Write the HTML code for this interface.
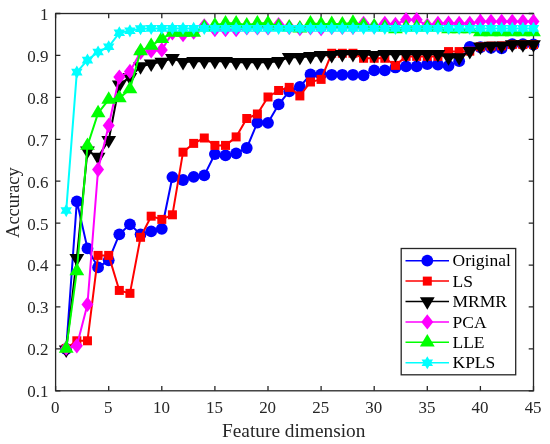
<!DOCTYPE html>
<html><head><meta charset="utf-8"><title>Accuracy vs feature dimension</title>
<style>html,body{margin:0;padding:0;background:#fff}body{width:550px;height:444px;overflow:hidden;position:relative}</style></head>
<body>
<svg width="550" height="444" viewBox="0 0 550 444" style="position:absolute;left:0;top:0">
<rect width="550" height="444" fill="#fff"/>
<path d="M55.60 390.8 v-4.8 M55.60 13.52 v4.8 M108.70 390.8 v-4.8 M108.70 13.52 v4.8 M161.80 390.8 v-4.8 M161.80 13.52 v4.8 M214.90 390.8 v-4.8 M214.90 13.52 v4.8 M268.00 390.8 v-4.8 M268.00 13.52 v4.8 M321.10 390.8 v-4.8 M321.10 13.52 v4.8 M374.20 390.8 v-4.8 M374.20 13.52 v4.8 M427.30 390.8 v-4.8 M427.30 13.52 v4.8 M480.40 390.8 v-4.8 M480.40 13.52 v4.8 M533.50 390.8 v-4.8 M533.50 13.52 v4.8 M55.6 390.80 h4.8 M533.50 390.80 h-4.8 M55.6 348.88 h4.8 M533.50 348.88 h-4.8 M55.6 306.96 h4.8 M533.50 306.96 h-4.8 M55.6 265.04 h4.8 M533.50 265.04 h-4.8 M55.6 223.12 h4.8 M533.50 223.12 h-4.8 M55.6 181.20 h4.8 M533.50 181.20 h-4.8 M55.6 139.28 h4.8 M533.50 139.28 h-4.8 M55.6 97.36 h4.8 M533.50 97.36 h-4.8 M55.6 55.44 h4.8 M533.50 55.44 h-4.8 M55.6 13.52 h4.8 M533.50 13.52 h-4.8" stroke="#262626" stroke-width="1.3" fill="none"/>
<rect x="55.6" y="13.52" width="477.90" height="377.28" fill="none" stroke="#262626" stroke-width="1.3"/>
<g><polyline points="66.22,348.99 76.84,201.33 87.46,248.39 98.08,267.42 108.70,260.31 119.32,234.37 129.94,224.33 140.56,234.37 151.18,231.45 161.80,228.81 172.42,177.07 183.04,180.00 193.66,176.82 204.28,175.39 214.90,154.06 225.52,155.40 236.14,153.39 246.76,148.00 257.38,122.69 268.00,122.81 278.62,104.41 289.24,91.40 299.86,86.80 310.48,74.42 321.10,74.42 331.72,74.79 342.34,74.79 352.96,74.79 363.58,75.42 374.20,70.40 384.82,70.40 395.44,67.47 406.06,66.38 416.68,66.38 427.30,64.13 437.92,64.54 448.54,65.80 459.16,61.20 469.78,46.98 480.40,47.23 491.02,47.90 501.64,48.31 512.26,44.13 522.88,44.13 533.50,44.47" fill="none" stroke="#0000ff" stroke-width="2.0" stroke-linejoin="round"/>
<circle cx="66.22" cy="348.99" r="5.9" fill="#0000ff"/>
<circle cx="76.84" cy="201.33" r="5.9" fill="#0000ff"/>
<circle cx="87.46" cy="248.39" r="5.9" fill="#0000ff"/>
<circle cx="98.08" cy="267.42" r="5.9" fill="#0000ff"/>
<circle cx="108.70" cy="260.31" r="5.9" fill="#0000ff"/>
<circle cx="119.32" cy="234.37" r="5.9" fill="#0000ff"/>
<circle cx="129.94" cy="224.33" r="5.9" fill="#0000ff"/>
<circle cx="140.56" cy="234.37" r="5.9" fill="#0000ff"/>
<circle cx="151.18" cy="231.45" r="5.9" fill="#0000ff"/>
<circle cx="161.80" cy="228.81" r="5.9" fill="#0000ff"/>
<circle cx="172.42" cy="177.07" r="5.9" fill="#0000ff"/>
<circle cx="183.04" cy="180.00" r="5.9" fill="#0000ff"/>
<circle cx="193.66" cy="176.82" r="5.9" fill="#0000ff"/>
<circle cx="204.28" cy="175.39" r="5.9" fill="#0000ff"/>
<circle cx="214.90" cy="154.06" r="5.9" fill="#0000ff"/>
<circle cx="225.52" cy="155.40" r="5.9" fill="#0000ff"/>
<circle cx="236.14" cy="153.39" r="5.9" fill="#0000ff"/>
<circle cx="246.76" cy="148.00" r="5.9" fill="#0000ff"/>
<circle cx="257.38" cy="122.69" r="5.9" fill="#0000ff"/>
<circle cx="268.00" cy="122.81" r="5.9" fill="#0000ff"/>
<circle cx="278.62" cy="104.41" r="5.9" fill="#0000ff"/>
<circle cx="289.24" cy="91.40" r="5.9" fill="#0000ff"/>
<circle cx="299.86" cy="86.80" r="5.9" fill="#0000ff"/>
<circle cx="310.48" cy="74.42" r="5.9" fill="#0000ff"/>
<circle cx="321.10" cy="74.42" r="5.9" fill="#0000ff"/>
<circle cx="331.72" cy="74.79" r="5.9" fill="#0000ff"/>
<circle cx="342.34" cy="74.79" r="5.9" fill="#0000ff"/>
<circle cx="352.96" cy="74.79" r="5.9" fill="#0000ff"/>
<circle cx="363.58" cy="75.42" r="5.9" fill="#0000ff"/>
<circle cx="374.20" cy="70.40" r="5.9" fill="#0000ff"/>
<circle cx="384.82" cy="70.40" r="5.9" fill="#0000ff"/>
<circle cx="395.44" cy="67.47" r="5.9" fill="#0000ff"/>
<circle cx="406.06" cy="66.38" r="5.9" fill="#0000ff"/>
<circle cx="416.68" cy="66.38" r="5.9" fill="#0000ff"/>
<circle cx="427.30" cy="64.13" r="5.9" fill="#0000ff"/>
<circle cx="437.92" cy="64.54" r="5.9" fill="#0000ff"/>
<circle cx="448.54" cy="65.80" r="5.9" fill="#0000ff"/>
<circle cx="459.16" cy="61.20" r="5.9" fill="#0000ff"/>
<circle cx="469.78" cy="46.98" r="5.9" fill="#0000ff"/>
<circle cx="480.40" cy="47.23" r="5.9" fill="#0000ff"/>
<circle cx="491.02" cy="47.90" r="5.9" fill="#0000ff"/>
<circle cx="501.64" cy="48.31" r="5.9" fill="#0000ff"/>
<circle cx="512.26" cy="44.13" r="5.9" fill="#0000ff"/>
<circle cx="522.88" cy="44.13" r="5.9" fill="#0000ff"/>
<circle cx="533.50" cy="44.47" r="5.9" fill="#0000ff"/>
</g>
<g><polyline points="66.22,348.57 76.84,340.79 87.46,340.79 98.08,255.41 108.70,255.41 119.32,290.43 129.94,293.35 140.56,237.30 151.18,216.18 161.80,219.40 172.42,214.80 183.04,152.18 193.66,143.39 204.28,138.00 214.90,145.40 225.52,145.40 236.14,136.91 246.76,118.50 257.38,113.99 268.00,97.00 278.62,90.48 289.24,87.38 299.86,95.92 310.48,81.99 321.10,79.39 331.72,53.25 342.34,53.25 352.96,53.25 363.58,58.27 374.20,58.27 384.82,58.27 395.44,65.38 406.06,56.39 416.68,56.39 427.30,56.39 437.92,56.39 448.54,51.58 459.16,51.58 469.78,51.16 480.40,46.77 491.02,46.01 501.64,45.80 512.26,44.47 522.88,44.47 533.50,44.47" fill="none" stroke="#ff0000" stroke-width="2.0" stroke-linejoin="round"/>
<rect x="61.72" y="344.07" width="9" height="9" fill="#ff0000"/>
<rect x="72.34" y="336.29" width="9" height="9" fill="#ff0000"/>
<rect x="82.96" y="336.29" width="9" height="9" fill="#ff0000"/>
<rect x="93.58" y="250.91" width="9" height="9" fill="#ff0000"/>
<rect x="104.20" y="250.91" width="9" height="9" fill="#ff0000"/>
<rect x="114.82" y="285.93" width="9" height="9" fill="#ff0000"/>
<rect x="125.44" y="288.85" width="9" height="9" fill="#ff0000"/>
<rect x="136.06" y="232.80" width="9" height="9" fill="#ff0000"/>
<rect x="146.68" y="211.68" width="9" height="9" fill="#ff0000"/>
<rect x="157.30" y="214.90" width="9" height="9" fill="#ff0000"/>
<rect x="167.92" y="210.30" width="9" height="9" fill="#ff0000"/>
<rect x="178.54" y="147.68" width="9" height="9" fill="#ff0000"/>
<rect x="189.16" y="138.89" width="9" height="9" fill="#ff0000"/>
<rect x="199.78" y="133.50" width="9" height="9" fill="#ff0000"/>
<rect x="210.40" y="140.90" width="9" height="9" fill="#ff0000"/>
<rect x="221.02" y="140.90" width="9" height="9" fill="#ff0000"/>
<rect x="231.64" y="132.41" width="9" height="9" fill="#ff0000"/>
<rect x="242.26" y="114.00" width="9" height="9" fill="#ff0000"/>
<rect x="252.88" y="109.49" width="9" height="9" fill="#ff0000"/>
<rect x="263.50" y="92.50" width="9" height="9" fill="#ff0000"/>
<rect x="274.12" y="85.98" width="9" height="9" fill="#ff0000"/>
<rect x="284.74" y="82.88" width="9" height="9" fill="#ff0000"/>
<rect x="295.36" y="91.42" width="9" height="9" fill="#ff0000"/>
<rect x="305.98" y="77.49" width="9" height="9" fill="#ff0000"/>
<rect x="316.60" y="74.89" width="9" height="9" fill="#ff0000"/>
<rect x="327.22" y="48.75" width="9" height="9" fill="#ff0000"/>
<rect x="337.84" y="48.75" width="9" height="9" fill="#ff0000"/>
<rect x="348.46" y="48.75" width="9" height="9" fill="#ff0000"/>
<rect x="359.08" y="53.77" width="9" height="9" fill="#ff0000"/>
<rect x="369.70" y="53.77" width="9" height="9" fill="#ff0000"/>
<rect x="380.32" y="53.77" width="9" height="9" fill="#ff0000"/>
<rect x="390.94" y="60.88" width="9" height="9" fill="#ff0000"/>
<rect x="401.56" y="51.89" width="9" height="9" fill="#ff0000"/>
<rect x="412.18" y="51.89" width="9" height="9" fill="#ff0000"/>
<rect x="422.80" y="51.89" width="9" height="9" fill="#ff0000"/>
<rect x="433.42" y="51.89" width="9" height="9" fill="#ff0000"/>
<rect x="444.04" y="47.08" width="9" height="9" fill="#ff0000"/>
<rect x="454.66" y="47.08" width="9" height="9" fill="#ff0000"/>
<rect x="465.28" y="46.66" width="9" height="9" fill="#ff0000"/>
<rect x="475.90" y="42.27" width="9" height="9" fill="#ff0000"/>
<rect x="486.52" y="41.51" width="9" height="9" fill="#ff0000"/>
<rect x="497.14" y="41.30" width="9" height="9" fill="#ff0000"/>
<rect x="507.76" y="39.97" width="9" height="9" fill="#ff0000"/>
<rect x="518.38" y="39.97" width="9" height="9" fill="#ff0000"/>
<rect x="529.00" y="39.97" width="9" height="9" fill="#ff0000"/>
</g>
<g><polyline points="66.22,349.62 76.84,258.22 87.46,150.71 98.08,156.99 108.70,140.26 119.32,84.71 129.94,77.09 140.56,66.43 151.18,63.71 161.80,61.83 172.42,58.27 183.04,62.24 193.66,61.20 204.28,61.20 214.90,61.20 225.52,61.20 236.14,62.20 246.76,62.20 257.38,62.20 268.00,62.20 278.62,61.20 289.24,57.18 299.86,57.18 310.48,56.18 321.10,55.17 331.72,55.17 342.34,54.17 352.96,54.17 363.58,54.17 374.20,55.17 384.82,54.17 395.44,54.17 406.06,54.17 416.68,54.17 427.30,54.17 437.92,54.17 448.54,57.43 459.16,57.43 469.78,51.16 480.40,46.77 491.02,46.01 501.64,45.80 512.26,44.47 522.88,44.47 533.50,44.47" fill="none" stroke="#000000" stroke-width="2.0" stroke-linejoin="round"/>
<polygon points="58.82,345.47 73.62,345.47 66.22,357.92" fill="#000000"/>
<polygon points="69.44,254.07 84.24,254.07 76.84,266.52" fill="#000000"/>
<polygon points="80.06,146.56 94.86,146.56 87.46,159.01" fill="#000000"/>
<polygon points="90.68,152.84 105.48,152.84 98.08,165.29" fill="#000000"/>
<polygon points="101.30,136.11 116.10,136.11 108.70,148.56" fill="#000000"/>
<polygon points="111.92,80.56 126.72,80.56 119.32,93.01" fill="#000000"/>
<polygon points="122.54,72.94 137.34,72.94 129.94,85.39" fill="#000000"/>
<polygon points="133.16,62.28 147.96,62.28 140.56,74.73" fill="#000000"/>
<polygon points="143.78,59.56 158.58,59.56 151.18,72.01" fill="#000000"/>
<polygon points="154.40,57.68 169.20,57.68 161.80,70.13" fill="#000000"/>
<polygon points="165.02,54.12 179.82,54.12 172.42,66.57" fill="#000000"/>
<polygon points="175.64,58.09 190.44,58.09 183.04,70.54" fill="#000000"/>
<polygon points="186.26,57.05 201.06,57.05 193.66,69.50" fill="#000000"/>
<polygon points="196.88,57.05 211.68,57.05 204.28,69.50" fill="#000000"/>
<polygon points="207.50,57.05 222.30,57.05 214.90,69.50" fill="#000000"/>
<polygon points="218.12,57.05 232.92,57.05 225.52,69.50" fill="#000000"/>
<polygon points="228.74,58.05 243.54,58.05 236.14,70.50" fill="#000000"/>
<polygon points="239.36,58.05 254.16,58.05 246.76,70.50" fill="#000000"/>
<polygon points="249.98,58.05 264.78,58.05 257.38,70.50" fill="#000000"/>
<polygon points="260.60,58.05 275.40,58.05 268.00,70.50" fill="#000000"/>
<polygon points="271.22,57.05 286.02,57.05 278.62,69.50" fill="#000000"/>
<polygon points="281.84,53.03 296.64,53.03 289.24,65.48" fill="#000000"/>
<polygon points="292.46,53.03 307.26,53.03 299.86,65.48" fill="#000000"/>
<polygon points="303.08,52.03 317.88,52.03 310.48,64.48" fill="#000000"/>
<polygon points="313.70,51.02 328.50,51.02 321.10,63.47" fill="#000000"/>
<polygon points="324.32,51.02 339.12,51.02 331.72,63.47" fill="#000000"/>
<polygon points="334.94,50.02 349.74,50.02 342.34,62.47" fill="#000000"/>
<polygon points="345.56,50.02 360.36,50.02 352.96,62.47" fill="#000000"/>
<polygon points="356.18,50.02 370.98,50.02 363.58,62.47" fill="#000000"/>
<polygon points="366.80,51.02 381.60,51.02 374.20,63.47" fill="#000000"/>
<polygon points="377.42,50.02 392.22,50.02 384.82,62.47" fill="#000000"/>
<polygon points="388.04,50.02 402.84,50.02 395.44,62.47" fill="#000000"/>
<polygon points="398.66,50.02 413.46,50.02 406.06,62.47" fill="#000000"/>
<polygon points="409.28,50.02 424.08,50.02 416.68,62.47" fill="#000000"/>
<polygon points="419.90,50.02 434.70,50.02 427.30,62.47" fill="#000000"/>
<polygon points="430.52,50.02 445.32,50.02 437.92,62.47" fill="#000000"/>
<polygon points="441.14,53.28 455.94,53.28 448.54,65.73" fill="#000000"/>
<polygon points="451.76,53.28 466.56,53.28 459.16,65.73" fill="#000000"/>
<polygon points="462.38,47.01 477.18,47.01 469.78,59.46" fill="#000000"/>
<polygon points="473.00,42.62 487.80,42.62 480.40,55.07" fill="#000000"/>
<polygon points="483.62,41.86 498.42,41.86 491.02,54.31" fill="#000000"/>
<polygon points="494.24,41.65 509.04,41.65 501.64,54.10" fill="#000000"/>
<polygon points="504.86,40.32 519.66,40.32 512.26,52.77" fill="#000000"/>
<polygon points="515.48,40.32 530.28,40.32 522.88,52.77" fill="#000000"/>
<polygon points="526.10,40.32 540.90,40.32 533.50,52.77" fill="#000000"/>
</g>
<g><polyline points="66.22,348.15 76.84,345.85 87.46,304.40 98.08,169.54 108.70,125.41 119.32,77.09 129.94,71.40 140.56,52.20 151.18,50.87 161.80,49.90 172.42,32.75 183.04,34.43 193.66,32.13 204.28,25.85 214.90,29.62 225.52,29.62 236.14,29.62 246.76,27.73 257.38,27.73 268.00,27.73 278.62,24.81 289.24,27.32 299.86,28.57 310.48,27.73 321.10,28.57 331.72,27.32 342.34,27.32 352.96,27.32 363.58,23.38 374.20,26.48 384.82,23.38 395.44,24.39 406.06,19.79 416.68,19.79 427.30,25.39 437.92,23.38 448.54,23.13 459.16,23.38 469.78,23.38 480.40,21.46 491.02,21.46 501.64,21.46 512.26,21.46 522.88,21.46 533.50,21.46" fill="none" stroke="#ff00ff" stroke-width="2.0" stroke-linejoin="round"/>
<polygon points="60.22,348.15 66.22,340.45 72.22,348.15 66.22,355.85" fill="#ff00ff"/>
<polygon points="70.84,345.85 76.84,338.15 82.84,345.85 76.84,353.55" fill="#ff00ff"/>
<polygon points="81.46,304.40 87.46,296.70 93.46,304.40 87.46,312.10" fill="#ff00ff"/>
<polygon points="92.08,169.54 98.08,161.84 104.08,169.54 98.08,177.24" fill="#ff00ff"/>
<polygon points="102.70,125.41 108.70,117.71 114.70,125.41 108.70,133.11" fill="#ff00ff"/>
<polygon points="113.32,77.09 119.32,69.39 125.32,77.09 119.32,84.79" fill="#ff00ff"/>
<polygon points="123.94,71.40 129.94,63.70 135.94,71.40 129.94,79.10" fill="#ff00ff"/>
<polygon points="134.56,52.20 140.56,44.50 146.56,52.20 140.56,59.90" fill="#ff00ff"/>
<polygon points="145.18,50.87 151.18,43.17 157.18,50.87 151.18,58.57" fill="#ff00ff"/>
<polygon points="155.80,49.90 161.80,42.20 167.80,49.90 161.80,57.60" fill="#ff00ff"/>
<polygon points="166.42,32.75 172.42,25.05 178.42,32.75 172.42,40.45" fill="#ff00ff"/>
<polygon points="177.04,34.43 183.04,26.73 189.04,34.43 183.04,42.13" fill="#ff00ff"/>
<polygon points="187.66,32.13 193.66,24.43 199.66,32.13 193.66,39.83" fill="#ff00ff"/>
<polygon points="198.28,25.85 204.28,18.15 210.28,25.85 204.28,33.55" fill="#ff00ff"/>
<polygon points="208.90,29.62 214.90,21.92 220.90,29.62 214.90,37.32" fill="#ff00ff"/>
<polygon points="219.52,29.62 225.52,21.92 231.52,29.62 225.52,37.32" fill="#ff00ff"/>
<polygon points="230.14,29.62 236.14,21.92 242.14,29.62 236.14,37.32" fill="#ff00ff"/>
<polygon points="240.76,27.73 246.76,20.03 252.76,27.73 246.76,35.43" fill="#ff00ff"/>
<polygon points="251.38,27.73 257.38,20.03 263.38,27.73 257.38,35.43" fill="#ff00ff"/>
<polygon points="262.00,27.73 268.00,20.03 274.00,27.73 268.00,35.43" fill="#ff00ff"/>
<polygon points="272.62,24.81 278.62,17.11 284.62,24.81 278.62,32.51" fill="#ff00ff"/>
<polygon points="283.24,27.32 289.24,19.62 295.24,27.32 289.24,35.02" fill="#ff00ff"/>
<polygon points="293.86,28.57 299.86,20.87 305.86,28.57 299.86,36.27" fill="#ff00ff"/>
<polygon points="304.48,27.73 310.48,20.03 316.48,27.73 310.48,35.43" fill="#ff00ff"/>
<polygon points="315.10,28.57 321.10,20.87 327.10,28.57 321.10,36.27" fill="#ff00ff"/>
<polygon points="325.72,27.32 331.72,19.62 337.72,27.32 331.72,35.02" fill="#ff00ff"/>
<polygon points="336.34,27.32 342.34,19.62 348.34,27.32 342.34,35.02" fill="#ff00ff"/>
<polygon points="346.96,27.32 352.96,19.62 358.96,27.32 352.96,35.02" fill="#ff00ff"/>
<polygon points="357.58,23.38 363.58,15.68 369.58,23.38 363.58,31.08" fill="#ff00ff"/>
<polygon points="368.20,26.48 374.20,18.78 380.20,26.48 374.20,34.18" fill="#ff00ff"/>
<polygon points="378.82,23.38 384.82,15.68 390.82,23.38 384.82,31.08" fill="#ff00ff"/>
<polygon points="389.44,24.39 395.44,16.69 401.44,24.39 395.44,32.09" fill="#ff00ff"/>
<polygon points="400.06,19.79 406.06,12.09 412.06,19.79 406.06,27.49" fill="#ff00ff"/>
<polygon points="410.68,19.79 416.68,12.09 422.68,19.79 416.68,27.49" fill="#ff00ff"/>
<polygon points="421.30,25.39 427.30,17.69 433.30,25.39 427.30,33.09" fill="#ff00ff"/>
<polygon points="431.92,23.38 437.92,15.68 443.92,23.38 437.92,31.08" fill="#ff00ff"/>
<polygon points="442.54,23.13 448.54,15.43 454.54,23.13 448.54,30.83" fill="#ff00ff"/>
<polygon points="453.16,23.38 459.16,15.68 465.16,23.38 459.16,31.08" fill="#ff00ff"/>
<polygon points="463.78,23.38 469.78,15.68 475.78,23.38 469.78,31.08" fill="#ff00ff"/>
<polygon points="474.40,21.46 480.40,13.76 486.40,21.46 480.40,29.16" fill="#ff00ff"/>
<polygon points="485.02,21.46 491.02,13.76 497.02,21.46 491.02,29.16" fill="#ff00ff"/>
<polygon points="495.64,21.46 501.64,13.76 507.64,21.46 501.64,29.16" fill="#ff00ff"/>
<polygon points="506.26,21.46 512.26,13.76 518.26,21.46 512.26,29.16" fill="#ff00ff"/>
<polygon points="516.88,21.46 522.88,13.76 528.88,21.46 522.88,29.16" fill="#ff00ff"/>
<polygon points="527.50,21.46 533.50,13.76 539.50,21.46 533.50,29.16" fill="#ff00ff"/>
</g>
<g><polyline points="66.22,348.57 76.84,271.02 87.46,145.69 98.08,113.07 108.70,99.51 119.32,98.13 129.94,89.22 140.56,51.16 151.18,45.72 161.80,38.90 172.42,32.59 183.04,32.59 193.66,32.59 204.28,27.32 214.90,25.22 225.52,23.22 236.14,23.22 246.76,25.22 257.38,23.22 268.00,23.22 278.62,26.23 289.24,27.23 299.86,28.24 310.48,23.22 321.10,24.22 331.72,23.80 342.34,24.22 352.96,22.63 363.58,25.22 374.20,26.23 384.82,27.32 395.44,28.99 406.06,27.32 416.68,27.32 427.30,27.32 437.92,27.32 448.54,29.20 459.16,29.20 469.78,29.20 480.40,32.21 491.02,32.21 501.64,32.21 512.26,32.21 522.88,32.21 533.50,32.21" fill="none" stroke="#00ff00" stroke-width="2.0" stroke-linejoin="round"/>
<polygon points="58.82,352.72 73.62,352.72 66.22,340.27" fill="#00ff00"/>
<polygon points="69.44,275.17 84.24,275.17 76.84,262.72" fill="#00ff00"/>
<polygon points="80.06,149.84 94.86,149.84 87.46,137.39" fill="#00ff00"/>
<polygon points="90.68,117.22 105.48,117.22 98.08,104.77" fill="#00ff00"/>
<polygon points="101.30,103.66 116.10,103.66 108.70,91.21" fill="#00ff00"/>
<polygon points="111.92,102.28 126.72,102.28 119.32,89.83" fill="#00ff00"/>
<polygon points="122.54,93.37 137.34,93.37 129.94,80.92" fill="#00ff00"/>
<polygon points="133.16,55.31 147.96,55.31 140.56,42.86" fill="#00ff00"/>
<polygon points="143.78,49.87 158.58,49.87 151.18,37.42" fill="#00ff00"/>
<polygon points="154.40,43.05 169.20,43.05 161.80,30.60" fill="#00ff00"/>
<polygon points="165.02,36.74 179.82,36.74 172.42,24.29" fill="#00ff00"/>
<polygon points="175.64,36.74 190.44,36.74 183.04,24.29" fill="#00ff00"/>
<polygon points="186.26,36.74 201.06,36.74 193.66,24.29" fill="#00ff00"/>
<polygon points="196.88,31.47 211.68,31.47 204.28,19.02" fill="#00ff00"/>
<polygon points="207.50,29.37 222.30,29.37 214.90,16.92" fill="#00ff00"/>
<polygon points="218.12,27.37 232.92,27.37 225.52,14.92" fill="#00ff00"/>
<polygon points="228.74,27.37 243.54,27.37 236.14,14.92" fill="#00ff00"/>
<polygon points="239.36,29.37 254.16,29.37 246.76,16.92" fill="#00ff00"/>
<polygon points="249.98,27.37 264.78,27.37 257.38,14.92" fill="#00ff00"/>
<polygon points="260.60,27.37 275.40,27.37 268.00,14.92" fill="#00ff00"/>
<polygon points="271.22,30.38 286.02,30.38 278.62,17.93" fill="#00ff00"/>
<polygon points="281.84,31.38 296.64,31.38 289.24,18.93" fill="#00ff00"/>
<polygon points="292.46,32.39 307.26,32.39 299.86,19.94" fill="#00ff00"/>
<polygon points="303.08,27.37 317.88,27.37 310.48,14.92" fill="#00ff00"/>
<polygon points="313.70,28.37 328.50,28.37 321.10,15.92" fill="#00ff00"/>
<polygon points="324.32,27.95 339.12,27.95 331.72,15.50" fill="#00ff00"/>
<polygon points="334.94,28.37 349.74,28.37 342.34,15.92" fill="#00ff00"/>
<polygon points="345.56,26.78 360.36,26.78 352.96,14.33" fill="#00ff00"/>
<polygon points="356.18,29.37 370.98,29.37 363.58,16.92" fill="#00ff00"/>
<polygon points="366.80,30.38 381.60,30.38 374.20,17.93" fill="#00ff00"/>
<polygon points="377.42,31.47 392.22,31.47 384.82,19.02" fill="#00ff00"/>
<polygon points="388.04,33.14 402.84,33.14 395.44,20.69" fill="#00ff00"/>
<polygon points="398.66,31.47 413.46,31.47 406.06,19.02" fill="#00ff00"/>
<polygon points="409.28,31.47 424.08,31.47 416.68,19.02" fill="#00ff00"/>
<polygon points="419.90,31.47 434.70,31.47 427.30,19.02" fill="#00ff00"/>
<polygon points="430.52,31.47 445.32,31.47 437.92,19.02" fill="#00ff00"/>
<polygon points="441.14,33.35 455.94,33.35 448.54,20.90" fill="#00ff00"/>
<polygon points="451.76,33.35 466.56,33.35 459.16,20.90" fill="#00ff00"/>
<polygon points="462.38,33.35 477.18,33.35 469.78,20.90" fill="#00ff00"/>
<polygon points="473.00,36.36 487.80,36.36 480.40,23.91" fill="#00ff00"/>
<polygon points="483.62,36.36 498.42,36.36 491.02,23.91" fill="#00ff00"/>
<polygon points="494.24,36.36 509.04,36.36 501.64,23.91" fill="#00ff00"/>
<polygon points="504.86,36.36 519.66,36.36 512.26,23.91" fill="#00ff00"/>
<polygon points="515.48,36.36 530.28,36.36 522.88,23.91" fill="#00ff00"/>
<polygon points="526.10,36.36 540.90,36.36 533.50,23.91" fill="#00ff00"/>
</g>
<g><polyline points="66.22,210.55 76.84,72.09 87.46,60.09 98.08,52.01 108.70,46.74 119.32,32.77 129.94,30.81 140.56,28.67 151.18,28.38 161.80,28.38 172.42,28.38 183.04,28.38 193.66,28.38 204.28,28.38 214.90,28.38 225.52,28.38 236.14,28.38 246.76,28.38 257.38,28.38 268.00,28.38 278.62,28.38 289.24,28.38 299.86,28.38 310.48,28.38 321.10,28.38 331.72,28.38 342.34,28.38 352.96,28.38 363.58,28.38 374.20,28.38 384.82,28.38 395.44,28.38 406.06,28.38 416.68,28.38 427.30,28.38 437.92,28.38 448.54,28.38 459.16,28.38 469.78,28.38 480.40,28.38 491.02,28.38 501.64,28.38 512.26,28.38 522.88,28.38 533.50,28.38" fill="none" stroke="#00ffff" stroke-width="2.0" stroke-linejoin="round"/>
<polygon points="66.22,203.95 68.13,207.25 71.94,207.25 70.03,210.55 71.94,213.85 68.13,213.85 66.22,217.15 64.31,213.85 60.50,213.85 62.41,210.55 60.50,207.25 64.31,207.25" fill="#00ffff"/>
<polygon points="76.84,65.49 78.75,68.79 82.56,68.79 80.65,72.09 82.56,75.39 78.75,75.39 76.84,78.69 74.93,75.39 71.12,75.39 73.03,72.09 71.12,68.79 74.93,68.79" fill="#00ffff"/>
<polygon points="87.46,53.49 89.37,56.79 93.18,56.79 91.27,60.09 93.18,63.39 89.37,63.39 87.46,66.69 85.55,63.39 81.74,63.39 83.65,60.09 81.74,56.79 85.55,56.79" fill="#00ffff"/>
<polygon points="98.08,45.41 99.99,48.71 103.80,48.71 101.89,52.01 103.80,55.31 99.99,55.31 98.08,58.61 96.17,55.31 92.36,55.31 94.27,52.01 92.36,48.71 96.17,48.71" fill="#00ffff"/>
<polygon points="108.70,40.14 110.61,43.44 114.42,43.44 112.51,46.74 114.42,50.04 110.61,50.04 108.70,53.34 106.79,50.04 102.98,50.04 104.89,46.74 102.98,43.44 106.79,43.44" fill="#00ffff"/>
<polygon points="119.32,26.17 121.23,29.47 125.04,29.47 123.13,32.77 125.04,36.07 121.23,36.07 119.32,39.37 117.41,36.07 113.60,36.07 115.51,32.77 113.60,29.47 117.41,29.47" fill="#00ffff"/>
<polygon points="129.94,24.21 131.85,27.51 135.66,27.51 133.75,30.81 135.66,34.11 131.85,34.11 129.94,37.41 128.03,34.11 124.22,34.11 126.13,30.81 124.22,27.51 128.03,27.51" fill="#00ffff"/>
<polygon points="140.56,22.07 142.47,25.37 146.28,25.37 144.37,28.67 146.28,31.97 142.47,31.97 140.56,35.27 138.65,31.97 134.84,31.97 136.75,28.67 134.84,25.37 138.65,25.37" fill="#00ffff"/>
<polygon points="151.18,21.78 153.09,25.08 156.90,25.08 154.99,28.38 156.90,31.68 153.09,31.68 151.18,34.98 149.27,31.68 145.46,31.68 147.37,28.38 145.46,25.08 149.27,25.08" fill="#00ffff"/>
<polygon points="161.80,21.78 163.71,25.08 167.52,25.08 165.61,28.38 167.52,31.68 163.71,31.68 161.80,34.98 159.89,31.68 156.08,31.68 157.99,28.38 156.08,25.08 159.89,25.08" fill="#00ffff"/>
<polygon points="172.42,21.78 174.33,25.08 178.14,25.08 176.23,28.38 178.14,31.68 174.33,31.68 172.42,34.98 170.51,31.68 166.70,31.68 168.61,28.38 166.70,25.08 170.51,25.08" fill="#00ffff"/>
<polygon points="183.04,21.78 184.95,25.08 188.76,25.08 186.85,28.38 188.76,31.68 184.95,31.68 183.04,34.98 181.13,31.68 177.32,31.68 179.23,28.38 177.32,25.08 181.13,25.08" fill="#00ffff"/>
<polygon points="193.66,21.78 195.57,25.08 199.38,25.08 197.47,28.38 199.38,31.68 195.57,31.68 193.66,34.98 191.75,31.68 187.94,31.68 189.85,28.38 187.94,25.08 191.75,25.08" fill="#00ffff"/>
<polygon points="204.28,21.78 206.19,25.08 210.00,25.08 208.09,28.38 210.00,31.68 206.19,31.68 204.28,34.98 202.37,31.68 198.56,31.68 200.47,28.38 198.56,25.08 202.37,25.08" fill="#00ffff"/>
<polygon points="214.90,21.78 216.81,25.08 220.62,25.08 218.71,28.38 220.62,31.68 216.81,31.68 214.90,34.98 212.99,31.68 209.18,31.68 211.09,28.38 209.18,25.08 212.99,25.08" fill="#00ffff"/>
<polygon points="225.52,21.78 227.43,25.08 231.24,25.08 229.33,28.38 231.24,31.68 227.43,31.68 225.52,34.98 223.61,31.68 219.80,31.68 221.71,28.38 219.80,25.08 223.61,25.08" fill="#00ffff"/>
<polygon points="236.14,21.78 238.05,25.08 241.86,25.08 239.95,28.38 241.86,31.68 238.05,31.68 236.14,34.98 234.23,31.68 230.42,31.68 232.33,28.38 230.42,25.08 234.23,25.08" fill="#00ffff"/>
<polygon points="246.76,21.78 248.67,25.08 252.48,25.08 250.57,28.38 252.48,31.68 248.67,31.68 246.76,34.98 244.85,31.68 241.04,31.68 242.95,28.38 241.04,25.08 244.85,25.08" fill="#00ffff"/>
<polygon points="257.38,21.78 259.29,25.08 263.10,25.08 261.19,28.38 263.10,31.68 259.29,31.68 257.38,34.98 255.47,31.68 251.66,31.68 253.57,28.38 251.66,25.08 255.47,25.08" fill="#00ffff"/>
<polygon points="268.00,21.78 269.91,25.08 273.72,25.08 271.81,28.38 273.72,31.68 269.91,31.68 268.00,34.98 266.09,31.68 262.28,31.68 264.19,28.38 262.28,25.08 266.09,25.08" fill="#00ffff"/>
<polygon points="278.62,21.78 280.53,25.08 284.34,25.08 282.43,28.38 284.34,31.68 280.53,31.68 278.62,34.98 276.71,31.68 272.90,31.68 274.81,28.38 272.90,25.08 276.71,25.08" fill="#00ffff"/>
<polygon points="289.24,21.78 291.15,25.08 294.96,25.08 293.05,28.38 294.96,31.68 291.15,31.68 289.24,34.98 287.33,31.68 283.52,31.68 285.43,28.38 283.52,25.08 287.33,25.08" fill="#00ffff"/>
<polygon points="299.86,21.78 301.77,25.08 305.58,25.08 303.67,28.38 305.58,31.68 301.77,31.68 299.86,34.98 297.95,31.68 294.14,31.68 296.05,28.38 294.14,25.08 297.95,25.08" fill="#00ffff"/>
<polygon points="310.48,21.78 312.39,25.08 316.20,25.08 314.29,28.38 316.20,31.68 312.39,31.68 310.48,34.98 308.57,31.68 304.76,31.68 306.67,28.38 304.76,25.08 308.57,25.08" fill="#00ffff"/>
<polygon points="321.10,21.78 323.01,25.08 326.82,25.08 324.91,28.38 326.82,31.68 323.01,31.68 321.10,34.98 319.19,31.68 315.38,31.68 317.29,28.38 315.38,25.08 319.19,25.08" fill="#00ffff"/>
<polygon points="331.72,21.78 333.63,25.08 337.44,25.08 335.53,28.38 337.44,31.68 333.63,31.68 331.72,34.98 329.81,31.68 326.00,31.68 327.91,28.38 326.00,25.08 329.81,25.08" fill="#00ffff"/>
<polygon points="342.34,21.78 344.25,25.08 348.06,25.08 346.15,28.38 348.06,31.68 344.25,31.68 342.34,34.98 340.43,31.68 336.62,31.68 338.53,28.38 336.62,25.08 340.43,25.08" fill="#00ffff"/>
<polygon points="352.96,21.78 354.87,25.08 358.68,25.08 356.77,28.38 358.68,31.68 354.87,31.68 352.96,34.98 351.05,31.68 347.24,31.68 349.15,28.38 347.24,25.08 351.05,25.08" fill="#00ffff"/>
<polygon points="363.58,21.78 365.49,25.08 369.30,25.08 367.39,28.38 369.30,31.68 365.49,31.68 363.58,34.98 361.67,31.68 357.86,31.68 359.77,28.38 357.86,25.08 361.67,25.08" fill="#00ffff"/>
<polygon points="374.20,21.78 376.11,25.08 379.92,25.08 378.01,28.38 379.92,31.68 376.11,31.68 374.20,34.98 372.29,31.68 368.48,31.68 370.39,28.38 368.48,25.08 372.29,25.08" fill="#00ffff"/>
<polygon points="384.82,21.78 386.73,25.08 390.54,25.08 388.63,28.38 390.54,31.68 386.73,31.68 384.82,34.98 382.91,31.68 379.10,31.68 381.01,28.38 379.10,25.08 382.91,25.08" fill="#00ffff"/>
<polygon points="395.44,21.78 397.35,25.08 401.16,25.08 399.25,28.38 401.16,31.68 397.35,31.68 395.44,34.98 393.53,31.68 389.72,31.68 391.63,28.38 389.72,25.08 393.53,25.08" fill="#00ffff"/>
<polygon points="406.06,21.78 407.97,25.08 411.78,25.08 409.87,28.38 411.78,31.68 407.97,31.68 406.06,34.98 404.15,31.68 400.34,31.68 402.25,28.38 400.34,25.08 404.15,25.08" fill="#00ffff"/>
<polygon points="416.68,21.78 418.59,25.08 422.40,25.08 420.49,28.38 422.40,31.68 418.59,31.68 416.68,34.98 414.77,31.68 410.96,31.68 412.87,28.38 410.96,25.08 414.77,25.08" fill="#00ffff"/>
<polygon points="427.30,21.78 429.21,25.08 433.02,25.08 431.11,28.38 433.02,31.68 429.21,31.68 427.30,34.98 425.39,31.68 421.58,31.68 423.49,28.38 421.58,25.08 425.39,25.08" fill="#00ffff"/>
<polygon points="437.92,21.78 439.83,25.08 443.64,25.08 441.73,28.38 443.64,31.68 439.83,31.68 437.92,34.98 436.01,31.68 432.20,31.68 434.11,28.38 432.20,25.08 436.01,25.08" fill="#00ffff"/>
<polygon points="448.54,21.78 450.45,25.08 454.26,25.08 452.35,28.38 454.26,31.68 450.45,31.68 448.54,34.98 446.63,31.68 442.82,31.68 444.73,28.38 442.82,25.08 446.63,25.08" fill="#00ffff"/>
<polygon points="459.16,21.78 461.07,25.08 464.88,25.08 462.97,28.38 464.88,31.68 461.07,31.68 459.16,34.98 457.25,31.68 453.44,31.68 455.35,28.38 453.44,25.08 457.25,25.08" fill="#00ffff"/>
<polygon points="469.78,21.78 471.69,25.08 475.50,25.08 473.59,28.38 475.50,31.68 471.69,31.68 469.78,34.98 467.87,31.68 464.06,31.68 465.97,28.38 464.06,25.08 467.87,25.08" fill="#00ffff"/>
<polygon points="480.40,21.78 482.31,25.08 486.12,25.08 484.21,28.38 486.12,31.68 482.31,31.68 480.40,34.98 478.49,31.68 474.68,31.68 476.59,28.38 474.68,25.08 478.49,25.08" fill="#00ffff"/>
<polygon points="491.02,21.78 492.93,25.08 496.74,25.08 494.83,28.38 496.74,31.68 492.93,31.68 491.02,34.98 489.11,31.68 485.30,31.68 487.21,28.38 485.30,25.08 489.11,25.08" fill="#00ffff"/>
<polygon points="501.64,21.78 503.55,25.08 507.36,25.08 505.45,28.38 507.36,31.68 503.55,31.68 501.64,34.98 499.73,31.68 495.92,31.68 497.83,28.38 495.92,25.08 499.73,25.08" fill="#00ffff"/>
<polygon points="512.26,21.78 514.17,25.08 517.98,25.08 516.07,28.38 517.98,31.68 514.17,31.68 512.26,34.98 510.35,31.68 506.54,31.68 508.45,28.38 506.54,25.08 510.35,25.08" fill="#00ffff"/>
<polygon points="522.88,21.78 524.79,25.08 528.60,25.08 526.69,28.38 528.60,31.68 524.79,31.68 522.88,34.98 520.97,31.68 517.16,31.68 519.07,28.38 517.16,25.08 520.97,25.08" fill="#00ffff"/>
<polygon points="533.50,21.78 535.41,25.08 539.22,25.08 537.31,28.38 539.22,31.68 535.41,31.68 533.50,34.98 531.59,31.68 527.78,31.68 529.69,28.38 527.78,25.08 531.59,25.08" fill="#00ffff"/>
</g>
<g font-family="'Liberation Serif', 'Times New Roman', serif" font-size="16.4" fill="#262626">
<text transform="translate(55.20,413.30) scale(1.035,1)" text-anchor="middle">0</text>
<text transform="translate(108.30,413.30) scale(1.035,1)" text-anchor="middle">5</text>
<text transform="translate(161.40,413.30) scale(1.035,1)" text-anchor="middle">10</text>
<text transform="translate(214.50,413.30) scale(1.035,1)" text-anchor="middle">15</text>
<text transform="translate(267.60,413.30) scale(1.035,1)" text-anchor="middle">20</text>
<text transform="translate(320.70,413.30) scale(1.035,1)" text-anchor="middle">25</text>
<text transform="translate(373.80,413.30) scale(1.035,1)" text-anchor="middle">30</text>
<text transform="translate(426.90,413.30) scale(1.035,1)" text-anchor="middle">35</text>
<text transform="translate(480.00,413.30) scale(1.035,1)" text-anchor="middle">40</text>
<text transform="translate(533.10,413.30) scale(1.035,1)" text-anchor="middle">45</text>
<text transform="translate(48.40,397.20) scale(1.035,1)" text-anchor="end">0.1</text>
<text transform="translate(48.40,355.28) scale(1.035,1)" text-anchor="end">0.2</text>
<text transform="translate(48.40,313.36) scale(1.035,1)" text-anchor="end">0.3</text>
<text transform="translate(48.40,271.44) scale(1.035,1)" text-anchor="end">0.4</text>
<text transform="translate(48.40,229.52) scale(1.035,1)" text-anchor="end">0.5</text>
<text transform="translate(48.40,187.60) scale(1.035,1)" text-anchor="end">0.6</text>
<text transform="translate(48.40,145.68) scale(1.035,1)" text-anchor="end">0.7</text>
<text transform="translate(48.40,103.76) scale(1.035,1)" text-anchor="end">0.8</text>
<text transform="translate(48.40,61.84) scale(1.035,1)" text-anchor="end">0.9</text>
<text transform="translate(48.40,19.92) scale(1.035,1)" text-anchor="end">1</text>
</g>
<g font-family="'Liberation Serif', 'Times New Roman', serif" font-size="18.7" fill="#262626">
<text transform="translate(293.70,436.60) scale(1.035,1)" text-anchor="middle">Feature dimension</text>
</g>
<g font-family="'Liberation Serif', 'Times New Roman', serif" font-size="18.45" fill="#262626">
<text transform="translate(18.70,202.60) scale(1.05,1) rotate(-90)" text-anchor="middle">Accuracy</text>
</g>
<rect x="401.2" y="248.5" width="114.50" height="126.30" fill="#fff" stroke="#262626" stroke-width="1.3"/>
<g font-family="'Liberation Serif', 'Times New Roman', serif" font-size="17.3" fill="#000">
<line x1="405.5" y1="260.7" x2="449" y2="260.7" stroke="#0000ff" stroke-width="1.5"/>
<circle cx="427.30" cy="260.70" r="5.9" fill="#0000ff"/>
<text transform="translate(452.50,266.30) scale(1.012,1)" text-anchor="start">Original</text>
<line x1="405.5" y1="281.1" x2="449" y2="281.1" stroke="#ff0000" stroke-width="1.5"/>
<rect x="422.80" y="276.60" width="9" height="9" fill="#ff0000"/>
<text transform="translate(452.50,286.70) scale(1.012,1)" text-anchor="start">LS</text>
<line x1="405.5" y1="301.5" x2="449" y2="301.5" stroke="#000000" stroke-width="1.5"/>
<polygon points="419.90,297.35 434.70,297.35 427.30,309.80" fill="#000000"/>
<text transform="translate(452.50,307.10) scale(1.012,1)" text-anchor="start">MRMR</text>
<line x1="405.5" y1="321.9" x2="449" y2="321.9" stroke="#ff00ff" stroke-width="1.5"/>
<polygon points="421.30,321.90 427.30,314.20 433.30,321.90 427.30,329.60" fill="#ff00ff"/>
<text transform="translate(452.50,327.50) scale(1.012,1)" text-anchor="start">PCA</text>
<line x1="405.5" y1="342.3" x2="449" y2="342.3" stroke="#00ff00" stroke-width="1.5"/>
<polygon points="419.90,346.45 434.70,346.45 427.30,334.00" fill="#00ff00"/>
<text transform="translate(452.50,347.90) scale(1.012,1)" text-anchor="start">LLE</text>
<line x1="405.5" y1="362.75" x2="449" y2="362.75" stroke="#00ffff" stroke-width="1.5"/>
<polygon points="427.30,356.15 429.21,359.45 433.02,359.45 431.11,362.75 433.02,366.05 429.21,366.05 427.30,369.35 425.39,366.05 421.58,366.05 423.49,362.75 421.58,359.45 425.39,359.45" fill="#00ffff"/>
<text transform="translate(452.50,368.35) scale(1.012,1)" text-anchor="start">KPLS</text>
</g>
</svg>
</body></html>
